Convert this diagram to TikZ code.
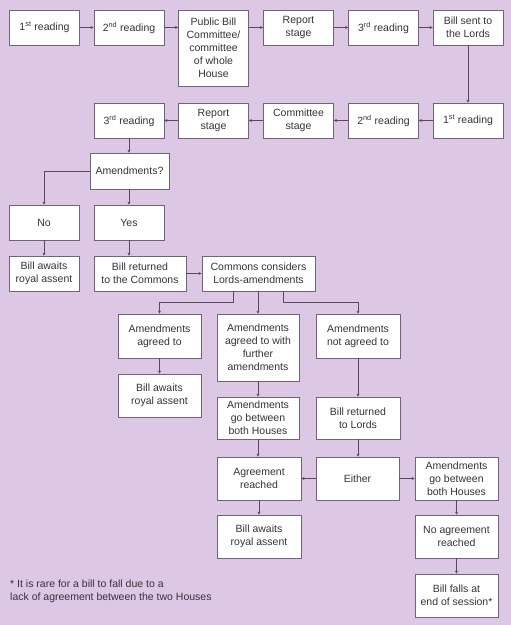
\documentclass[tikz,border=0pt]{standalone}
\usepackage{fontspec}
\setmainfont{Liberation Sans}
\usepackage{tikz}
\usetikzlibrary{arrows.meta, positioning, calc}

\definecolor{bgcol}{RGB}{220,199,228}
\definecolor{linecol}{RGB}{88,72,98}
\definecolor{textcol}{RGB}{55,50,58}

\begin{document}
\begin{tikzpicture}[
    x=1pt, y=-1pt,
    every node/.style={font=\fontsize{10.5}{13}\selectfont, text=textcol},
    box/.style={draw=linecol!85, line width=0.8pt, fill=white, align=center, inner sep=1pt, minimum width=70pt, minimum height=35pt},
    arrow/.style={-{Stealth[length=3pt, width=3pt]}, line width=0.8pt, linecol}
]

% === BACKGROUND ===
\fill[bgcol] (0,0) rectangle (511,625);
\useasboundingbox (0,0) rectangle (511,625);

% === NODES ===

% Commons, top row
\node[box] (c1) at (44.5,27.5) {1\textsuperscript{st} reading};
\node[box] (c2) at (129,27.5) {2\textsuperscript{nd} reading};
\node[box, minimum height=76pt] (c3) at (213.5,48) {Public Bill\\Committee/\\committee\\of whole\\House};
\node[box] (c4) at (298.5,27.5) {Report\\stage};
\node[box] (c5) at (383.5,27.5) {3\textsuperscript{rd} reading};
\node[box] (c6) at (468,27.5) {Bill sent to\\the Lords};

% Lords, second row
\node[box] (l1) at (468,120.5) {1\textsuperscript{st} reading};
\node[box] (l2) at (383.5,120.5) {2\textsuperscript{nd} reading};
\node[box] (l3) at (298.5,120.5) {Committee\\stage};
\node[box] (l4) at (213.5,120.5) {Report\\stage};
\node[box] (l5) at (129,120.5) {3\textsuperscript{rd} reading};

% Amendments?
\node[box, minimum width=79pt, minimum height=36pt] (amend) at (129.5,171) {Amendments?};
\node[box] (no) at (44,222.5) {No};
\node[box] (yes) at (129,222.5) {Yes};
\node[box] (awaitA) at (44,273.5) {Bill awaits\\royal assent};
\node[box, minimum width=92pt] (retC) at (140,273.5) {Bill returned\\to the Commons};
\node[box, minimum width=113pt] (cons) at (258.5,273.5) {Commons considers\\Lords-amendments};

% Commons' three answers
\node[box, minimum width=83pt, minimum height=44pt] (agreed) at (159.5,336) {Amendments\\agreed to};
\node[box, minimum width=82pt, minimum height=67pt] (further) at (258,347.5) {Amendments\\agreed to with\\further\\amendments};
\node[box, minimum width=84pt, minimum height=44pt] (notagr) at (358,336) {Amendments\\not agreed to};
\node[box, minimum width=83pt, minimum height=43pt] (awaitB) at (159.5,395.5) {Bill awaits\\royal assent};
\node[box, minimum width=82pt, minimum height=42pt] (betweenA) at (258,418) {Amendments\\go between\\both Houses};
\node[box, minimum width=84pt, minimum height=42pt] (retL) at (358,418) {Bill returned\\to Lords};

% Last rows
\node[box, minimum width=84pt, minimum height=43pt] (reached) at (259,478.5) {Agreement\\reached};
\node[box, minimum width=83pt, minimum height=43pt] (either) at (357.5,478.5) {Either};
\node[box, minimum width=83pt, minimum height=43pt] (betweenB) at (456.5,478.5) {Amendments\\go between\\both Houses};
\node[box, minimum width=84pt, minimum height=43pt] (awaitC) at (259,536.5) {Bill awaits\\royal assent};
\node[box, minimum width=83pt, minimum height=43pt] (noagr) at (456.5,536.5) {No agreement\\reached};
\node[box, minimum width=83pt, minimum height=43pt] (falls) at (456.5,595.5) {Bill falls at\\end of session*};

% Footnote
\node[anchor=base west, align=left, inner sep=0pt] (note) at (10,600) {* It is rare for a bill to fall due to a\\lack of agreement between the two Houses};

% === COMMONS ===
\draw[arrow] (c1) -- (c2);
\draw[arrow] (c2.east) -- (c2.east -| c3.west);
\draw[arrow] (c4.west -| c3.east) -- (c4.west);
\draw[arrow] (c4) -- (c5);
\draw[arrow] (c5) -- (c6);
\draw[arrow] (c6) -- (l1);

% === LORDS ===
\draw[arrow] (l1) -- (l2);
\draw[arrow] (l2) -- (l3);
\draw[arrow] (l3) -- (l4);
\draw[arrow] (l4) -- (l5);
\draw[arrow] (l5) -- (l5 |- amend.north);

% === AMENDMENTS ===
\draw[arrow] (amend.west) -| (no.north);
\draw[arrow] (yes |- amend.south) -- (yes.north);
\draw[arrow] (no) -- (awaitA);
\draw[arrow] (yes.south) -- (yes |- retC.north);
\draw[arrow] (retC) -- (cons);

% Commons considers: three ways
\draw[arrow] ([xshift=-25.5pt]cons.south) -- ++(0,11) -| (agreed.north);
\draw[arrow] (further.north |- cons.south) -- (further.north);
\draw[arrow] ([xshift=24.5pt]cons.south) -- ++(0,11) -| (notagr.north);

\draw[arrow] (agreed) -- (awaitB);
\draw[arrow] (further) -- (betweenA);
\draw[arrow] (notagr) -- (retL);
\draw[arrow] (betweenA.south) -- (betweenA.south |- reached.north);
\draw[arrow] (retL.south) -- (retL.south |- either.north);

% === EITHER ===
\draw[arrow] (either) -- (reached);
\draw[arrow] (either) -- (betweenB);
\draw[arrow] (reached) -- (awaitC);
\draw[arrow] (betweenB) -- (noagr);
\draw[arrow] (noagr) -- (falls);

\end{tikzpicture}
\end{document}
